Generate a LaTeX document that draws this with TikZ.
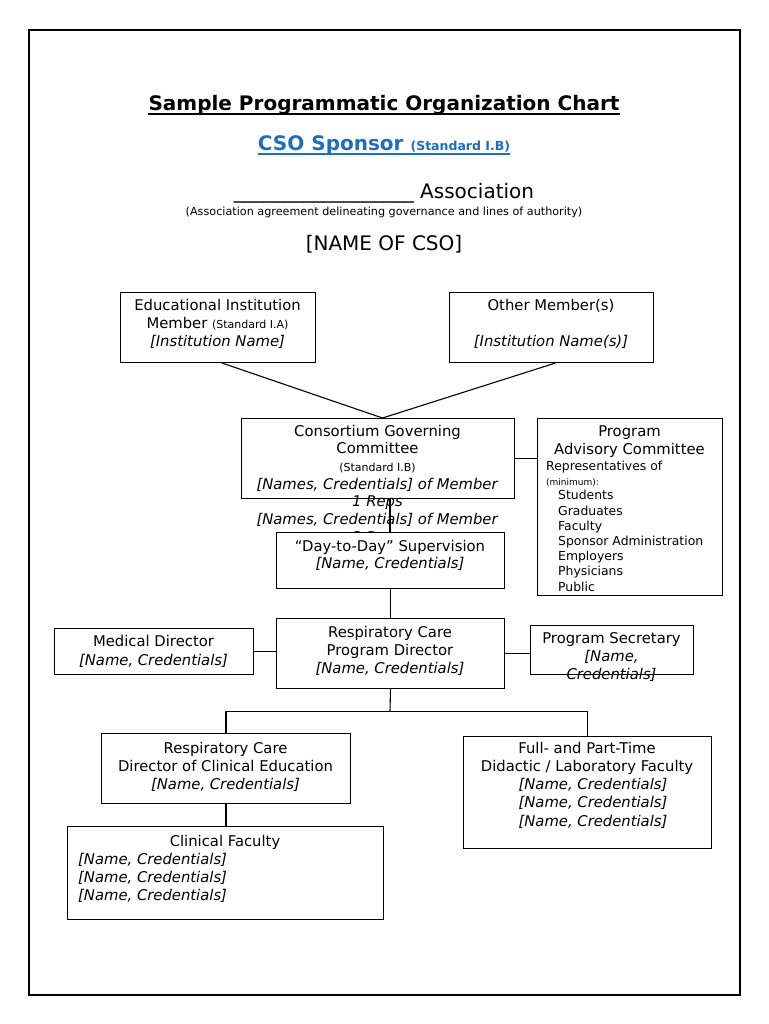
\documentclass[tikz,border=0pt]{standalone}
\usepackage{fontspec}
\setmainfont{DejaVu Sans}
\definecolor{csoblue}{HTML}{1E6EBE}
\begin{document}
\begin{tikzpicture}[x=1pt,y=-1pt,
  box/.style={draw, line width=1pt, fill=white, rectangle, inner sep=0pt, anchor=north west},
  txt/.style={inner sep=0pt, align=center, anchor=north, font=\fontsize{14.8}{18}\selectfont},
  ltxt/.style={inner sep=0pt, align=left, anchor=north west, font=\fontsize{14.8}{18}\selectfont},
  conn/.style={line width=1.1pt}]
\useasboundingbox (0,0) rectangle (768,1024);
\draw[line width=2pt] (29,30) rectangle (740,995);

% headings
\node[inner sep=0pt, anchor=base, font=\fontsize{20}{24}\selectfont\bfseries] (title) at (384,111) {Sample Programmatic Organization Chart};
\draw[line width=1.6pt] ([yshift=-3pt]title.base west) -- ([yshift=-3pt]title.base east);
\node[inner sep=0pt, anchor=base, text=csoblue, font=\bfseries] (cso) at (384,151) {\fontsize{20}{24}\selectfont CSO Sponsor {\fontsize{12.5}{15}\selectfont (Standard I.B)}};
\draw[line width=1.2pt, csoblue] ([yshift=-3pt]cso.base west) -- ([yshift=-3pt]cso.base east);
\node[inner sep=0pt, anchor=base, font=\fontsize{20}{24}\selectfont] (assoc) at (384,199) {\_\_\_\_\_\_\_\_\_\_\_\_\_\_\_\_\_\_ Association};
\node[inner sep=0pt, anchor=base, font=\fontsize{11.2}{13}\selectfont] (assocnote) at (384,215) {(Association agreement delineating governance and lines of authority)};
\node[inner sep=0pt, anchor=base, font=\fontsize{20}{24}\selectfont] (csoname) at (384,250) {[NAME OF CSO]};

% member boxes
\node[box, minimum width=195pt, minimum height=70pt] (edu) at (120,292) {};
\node[txt] (edut) at (217.5,297.4) {\strut Educational Institution\\Member {\fontsize{11}{18}\selectfont(Standard I.A)}\\\textit{[Institution Name]}};
\node[box, minimum width=204pt, minimum height=70pt] (oth) at (449,292) {};
\node[txt] (otht) at (551,297.4) {\strut Other Member(s)\\\strut\\\textit{[Institution Name(s)]}};

% consortium
\node[box, minimum width=273pt, minimum height=80pt] (cons) at (241,418) {};
\node[txt, font=\fontsize{14.8}{17.7}\selectfont] (const) at (377.5,423.6) {\strut Consortium Governing\\Committee\\{\fontsize{11}{17.7}\selectfont(Standard I.B)}\\\textit{[Names, Credentials] of Member}\\\textit{1 Reps}\\\textit{[Names, Credentials] of Member}\\\textit{2 Reps}};

\draw[conn] ([xshift=4pt]edu.south) -- ([xshift=4.5pt]cons.north);
\draw[conn] ([xshift=4pt]oth.south) -- ([xshift=4.5pt]cons.north);

% advisory
\node[box, minimum width=185pt, minimum height=177pt] (adv) at (537,418) {};
\begin{scope}
\clip (537,418) rectangle (722,593);
\node[txt] (advt) at (629.5,423.4) {\strut Program\\Advisory Committee};
\node[inner sep=0pt, anchor=base west, font=\fontsize{12.4}{15}\selectfont] (advrep) at (546,470.5) {Representatives of};
\node[inner sep=0pt, anchor=base west, font=\fontsize{9}{11}\selectfont] (advmin) at (546,485.5) {(minimum):};
\node[ltxt, font=\fontsize{12.4}{15.2}\selectfont] (advlist) at (558,489) {\strut Students\\Graduates\\Faculty\\Sponsor Administration\\Employers\\Physicians\\Public};
\end{scope}
\draw[conn] (cons.east) -- (cons.east -| adv.west);

% day-to-day
\coordinate (dayn) at (390,532);
\draw[conn] (dayn |- cons.south) -- (dayn);
\node[box, minimum width=228pt, minimum height=56pt] (day) at (276,532) {};
\node[txt, font=\fontsize{14.8}{17.5}\selectfont] (dayt) at (390,538.7) {\strut “Day-to-Day” Supervision\\\textit{[Name, Credentials]}};

% program director row
\node[box, minimum width=228pt, minimum height=70pt] (pd) at (276,618) {};
\node[txt] (pdt) at (390,624.4) {\strut Respiratory Care\\Program Director\\\textit{[Name, Credentials]}};
\draw[conn] (day.south) -- (pd.north);

\node[box, minimum width=199pt, minimum height=46pt] (md) at (54,628) {};
\node[txt, font=\fontsize{14.8}{19}\selectfont] (mdt) at (153.5,632.7) {\strut Medical Director\\\textit{[Name, Credentials]}};
\draw[conn] (md.east) -- (md.east -| pd.west);

\node[box, minimum width=163pt, minimum height=49pt] (sec) at (530,625) {};
\draw[conn] (pd.east) -- (pd.east -| sec.west);
\node[txt] (sect) at (611.5,630.4) {\strut Program Secretary\\\textit{[Name,}\\\textit{Credentials]}};

% lower tier
\node[box, minimum width=249pt, minimum height=70pt] (dce) at (101,733) {};
\node[txt] (dcet) at (225.5,740.4) {\strut Respiratory Care\\Director of Clinical Education\\\textit{[Name, Credentials]}};
\node[box, minimum width=248pt, minimum height=112pt] (fac) at (463,736) {};
\node[txt, font=\fontsize{14.8}{18.25}\selectfont] (fact) at (587,740.2) {\strut Full- and Part-Time\\Didactic / Laboratory Faculty\\\hspace*{12pt}\textit{[Name, Credentials]}\\\hspace*{12pt}\textit{[Name, Credentials]}\\\hspace*{12pt}\textit{[Name, Credentials]}};

\coordinate (bus) at (390,711.5);
\draw[conn] (pd.south) -- (bus);
\draw[conn] (dce.north) |- (bus);
\draw[conn] (bus) -| (fac.north);

\node[box, minimum width=316pt, minimum height=93pt] (clin) at (67,826) {};
\node[txt] (clint) at (225,833.4) {\strut Clinical Faculty};
\node[ltxt] (clinl) at (78,851.4) {\strut\textit{[Name, Credentials]}\\\textit{[Name, Credentials]}\\\textit{[Name, Credentials]}};
\draw[conn] (dce.south) -- (dce.south |- clin.north);
\end{tikzpicture}
\end{document}
